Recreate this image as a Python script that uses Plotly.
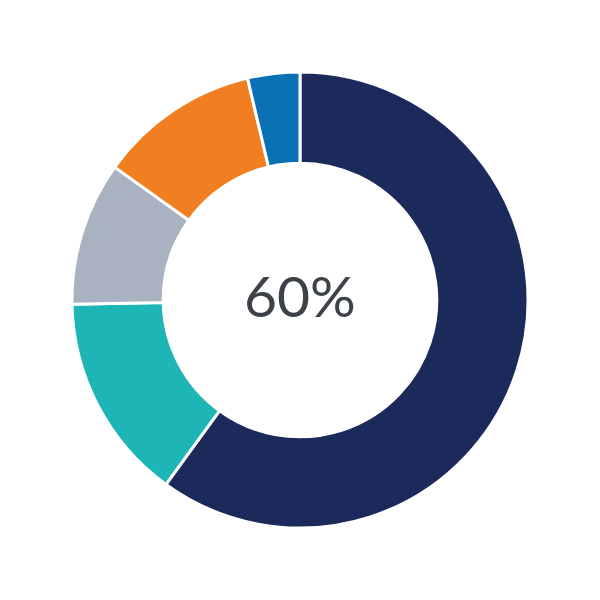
import plotly.graph_objects as go

# slice order clockwise from 12 o'clock
labels = ["Navy", "Teal", "Gray", "Orange", "Blue"]
values = [60, 14.7, 10.2, 11.4, 3.7]
colors = ["#1b2a5a", "#1eb5b6", "#a9b2c1", "#f27e22", "#0a72b4"]
center_text = "60%"

# page body adds an ~8px offset, compensate in the domain
off = 8 / 600

fig = go.Figure(go.Pie(
    labels=labels,
    values=values,
    hole=0.6,
    sort=False,
    direction="clockwise",
    rotation=0,
    textinfo="none",
    marker=dict(colors=colors, line=dict(color="white", width=3)),
    domain=dict(x=[0.12 - off, 0.88 - off], y=[0.12 + off, 0.88 + off]),
    showlegend=False,
))

fig.add_annotation(
    text=center_text, x=0.5 - off, y=0.5 + off + 5 / 600, xref="paper", yref="paper",
    showarrow=False,
    font=dict(family="Lato", size=57, color="#3c4248"),
)

fig.update_layout(
    width=600, height=600,
    margin=dict(l=0, r=0, t=0, b=0),
    paper_bgcolor="white",
)

fig.write_html("out.html")
